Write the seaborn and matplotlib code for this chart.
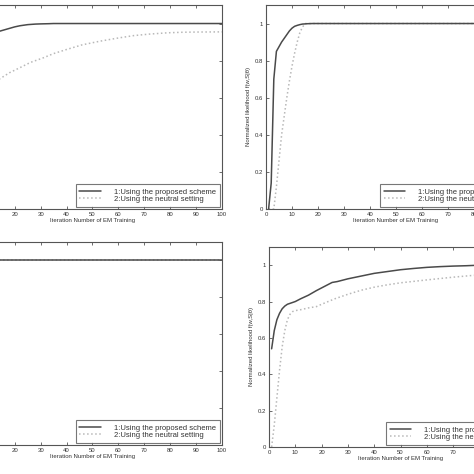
import matplotlib
matplotlib.use("Agg")
import matplotlib.pyplot as plt
import seaborn as sns

sns.set_style("ticks", {"xtick.direction": "in", "ytick.direction": "in"})
plt.rcParams['font.family'] = ['Liberation Sans', 'DejaVu Sans']

# datos (iteracion, verosimilitud normalizada)
tl_it1 = [1, 2, 3, 4, 5, 6, 8, 10, 12, 14, 16, 18, 20, 22, 25, 28, 30, 33, 35, 40, 50, 60, 70, 80, 90, 100]
tl_v1 = [0.3, 0.55, 0.7, 0.78, 0.83, 0.87, 0.91, 0.935, 0.95, 0.958, 0.966, 0.974, 0.982, 0.988, 0.994,
         0.997, 0.998, 0.999, 1, 1, 1, 1, 1, 1, 1, 1]
tl_it2 = [1, 2, 3, 4, 5, 6, 8, 10, 12, 14, 18, 22, 26, 31, 35, 40, 46, 53, 60, 66, 72, 79, 85, 90, 100]
tl_v2 = [0, 0.15, 0.3, 0.42, 0.5, 0.56, 0.63, 0.665, 0.685, 0.70, 0.735, 0.762, 0.79, 0.815, 0.838,
         0.86, 0.885, 0.905, 0.922, 0.935, 0.943, 0.95, 0.953, 0.954, 0.955]

tr_it1 = [1, 2, 3, 4, 5, 6, 7, 8, 9, 10, 11, 12, 13, 14, 15, 16, 18, 20, 30, 40, 50, 60, 70, 80, 90, 100]
tr_v1 = [0, 0.14, 0.70, 0.85, 0.875, 0.90, 0.92, 0.94, 0.96, 0.975, 0.985, 0.99, 0.994, 0.997, 0.998,
         0.999, 1, 1, 1, 1, 1, 1, 1, 1, 1, 1]
tr_it2 = [1, 2, 3, 4, 5, 6, 7, 8, 9, 10, 11, 12, 13, 14, 15, 20, 30, 40, 50, 60, 70, 80, 90, 100]
tr_v2 = [0, 0, 0, 0.12, 0.26, 0.40, 0.50, 0.60, 0.69, 0.77, 0.84, 0.90, 0.95, 0.98, 1.0,
         1, 1, 1, 1, 1, 1, 1, 1, 1]

bl_it1 = [1, 2, 3, 4, 5, 6, 8, 10, 12, 14, 20, 30, 40, 50, 60, 70, 80, 90, 100]
bl_v1 = [0.2, 0.6, 0.85, 0.95, 0.98, 0.99, 0.997, 1, 1, 1, 1, 1, 1, 1, 1, 1, 1, 1, 1]
bl_it2 = [1, 2, 3, 4, 5, 6, 8, 10, 12, 14, 20, 30, 40, 50, 60, 70, 80, 90, 100]
bl_v2 = [0, 0.3, 0.6, 0.8, 0.9, 0.95, 0.985, 0.995, 1, 1, 1, 1, 1, 1, 1, 1, 1, 1, 1]

br_it1 = [1, 2, 3, 4, 5, 6, 7, 8, 10, 12, 15, 18, 20, 22, 24, 26, 30, 35, 40, 45, 50, 55, 60, 65, 70,
          75, 80, 90, 100]
br_v1 = [0.54, 0.64, 0.70, 0.735, 0.76, 0.775, 0.785, 0.79, 0.80, 0.815, 0.835, 0.86, 0.875, 0.89,
         0.905, 0.91, 0.925, 0.94, 0.955, 0.965, 0.975, 0.982, 0.988, 0.992, 0.995, 0.997, 1.0, 1.0, 1.0]
br_it2 = [1, 2, 3, 4, 5, 6, 7, 8, 9, 10, 12, 15, 18, 20, 25, 30, 35, 40, 45, 50, 60, 70, 80, 90, 100]
br_v2 = [0, 0.12, 0.27, 0.42, 0.55, 0.64, 0.70, 0.73, 0.745, 0.75, 0.755, 0.765, 0.772, 0.785, 0.815,
         0.84, 0.862, 0.879, 0.892, 0.903, 0.919, 0.934, 0.947, 0.955, 0.96]

labels = ['1:Using the proposed scheme', '2:Using the neutral setting']
xticks = list(range(0, 101, 10))
yticks = [0, 0.2, 0.4, 0.6, 0.8, 1]
ylab = 'Normalized likelihood f(w,S|θ)'

c1 = '#4a4a4a'
c2 = '#b8b8b8'
txt = '#333333'

fig = plt.figure(figsize=(4.74, 4.74), dpi=100)

panels = [
    ([-0.0781, 0.5591, 0.5464, 0.4304], tl_it1, tl_v1, tl_it2, tl_v2),
    ([0.5612, 0.5591, 0.5485, 0.4304], tr_it1, tr_v1, tr_it2, tr_v2),
    ([-0.0781, 0.0612, 0.5464, 0.4293], bl_it1, bl_v1, bl_it2, bl_v2),
    ([0.5675, 0.0570, 0.5549, 0.4219], br_it1, br_v1, br_it2, br_v2),
]

for pos, x1, y1, x2, y2 in panels:
    ax = fig.add_axes(pos)
    sns.lineplot(x=x1, y=y1, ax=ax, color=c1, linewidth=1.1, label=labels[0], zorder=3)
    sns.lineplot(x=x2, y=y2, ax=ax, color=c2, linewidth=1.1, linestyle=':', label=labels[1], zorder=2)
    ax.set_xlim(0, 100)
    ax.set_ylim(0, 1.1)
    ax.set_xticks(xticks)
    ax.set_yticks(yticks)
    ax.set_yticklabels(['0', '0.2', '0.4', '0.6', '0.8', '1'])
    ax.tick_params(which='both', direction='in', top=True, right=True, length=2.5, width=0.6,
                   labelsize=4.3, pad=2, colors='#555555', labelcolor=txt)
    for s in ax.spines.values():
        s.set_color('#555555')
        s.set_linewidth(0.8)
    ax.set_xlabel('Iteration Number of EM Training', fontsize=4.3, color=txt, labelpad=1)
    ax.set_ylabel(ylab, fontsize=4.3, color=txt, labelpad=3)
    leg = ax.legend(loc='lower right', fontsize=5.5, frameon=True, fancybox=False, handlelength=2.8,
                    handletextpad=1.7, labelspacing=0.0, borderpad=0.5, borderaxespad=0.3)
    leg.get_frame().set_edgecolor('#555555')
    leg.get_frame().set_linewidth(0.8)
    for t in leg.get_texts():
        t.set_color(txt)

fig.savefig('out.png', dpi=100)
